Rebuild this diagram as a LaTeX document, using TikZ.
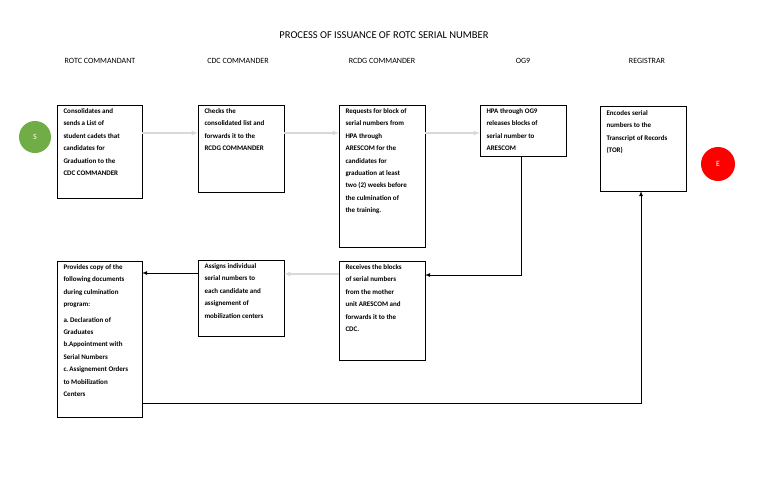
\documentclass[tikz,border=0pt]{standalone}
\usepackage{fontspec}
\setmainfont{Carlito}
\definecolor{sgreen}{HTML}{70AD47}
\begin{document}
\begin{tikzpicture}[x=1pt,y=-1pt,
  txt/.style={anchor=north west,align=left,font=\fontsize{7}{12.4}\selectfont\bfseries},
  hd/.style={font=\fontsize{8}{9}\selectfont},
  ln/.style={line width=0.8pt,-latex},
  gl/.style={line width=1.2pt,draw=gray!30,-latex}]
\useasboundingbox (0,0) rectangle (768,480);
\fill[white] (0,0) rectangle (768,480);
\node[font=\fontsize{10.5}{12}\selectfont] (title) at (384,35) {PROCESS OF ISSUANCE OF ROTC SERIAL NUMBER};
\node[hd] (h1) at (100,61) {ROTC COMMANDANT};
\node[hd] (h2) at (238,61) {CDC COMMANDER};
\node[hd] (h3) at (382,61) {RCDG COMMANDER};
\node[hd] (h4) at (523,61) {OG9};
\node[hd] (h5) at (647,61) {REGISTRAR};
\node[circle,fill=sgreen,minimum size=32pt,inner sep=0pt,text=white,font=\fontsize{8}{9}\selectfont] (s) at (35,137) {S};
\node[circle,fill=red,minimum size=34pt,inner sep=0pt,text=white,font=\fontsize{8}{9}\selectfont] (e) at (718,164) {E};
\draw[line width=0.8pt] (57,105) rectangle (142,198);
\draw[line width=0.8pt] (198,105) rectangle (284,192);
\draw[line width=0.8pt] (339,105) rectangle (425,247);
\draw[line width=0.8pt] (480,105) rectangle (566,156);
\draw[line width=0.8pt] (600,106) rectangle (686,191);
\draw[line width=0.8pt] (339,261) rectangle (425,360);
\draw[line width=0.8pt] (198,260) rectangle (284,336);
\draw[line width=0.8pt] (57,261) rectangle (142,417);
\node[txt] (ta) at (60,105) {Consolidates and\\sends a List of\\student cadets that\\candidates for\\Graduation to the\\CDC COMMANDER};
\node[txt] (tb) at (201,105) {Checks the\\consolidated list and\\forwards it to the\\RCDG COMMANDER};
\node[txt] (tc) at (342,105) {Requests for block of\\serial numbers from\\HPA through\\ARESCOM for the\\candidates for\\graduation at least\\two (2) weeks before\\the culmination of\\the training.};
\node[txt] (td) at (483,105) {HPA through OG9\\releases blocks of\\serial number to\\ARESCOM};
\node[txt] (te) at (603,107) {Encodes serial\\numbers to the\\Transcript of Records\\(TOR)};
\node[txt] (tf) at (342,261) {Receives the blocks\\of serial numbers\\from the mother\\unit ARESCOM and\\forwards it to the\\CDC.};
\node[txt] (tg) at (201,260) {Assigns individual\\serial numbers to\\each candidate and\\assignement of\\mobilization centers};
\node[txt] (th) at (60,261) {Provides copy of the\\following documents\\during culmination\\program:\\[3pt]a.\,Declaration of\\Graduates\\b.Appointment with\\Serial Numbers\\c.\,Assignement Orders\\to Mobilization\\Centers};
\draw[gl] (142,133) -- (198,133);
\draw[gl] (284,133) -- (339,133);
\draw[gl] (425,133) -- (480,133);
\draw[ln] (521,156) -- (521,275) -- (425,275);
\draw[gl] (339,274) -- (284,274);
\draw[ln] (198,273) -- (142,273);
\draw[ln] (142,403) -- (641,403) -- (641,191);
\end{tikzpicture}
\end{document}
